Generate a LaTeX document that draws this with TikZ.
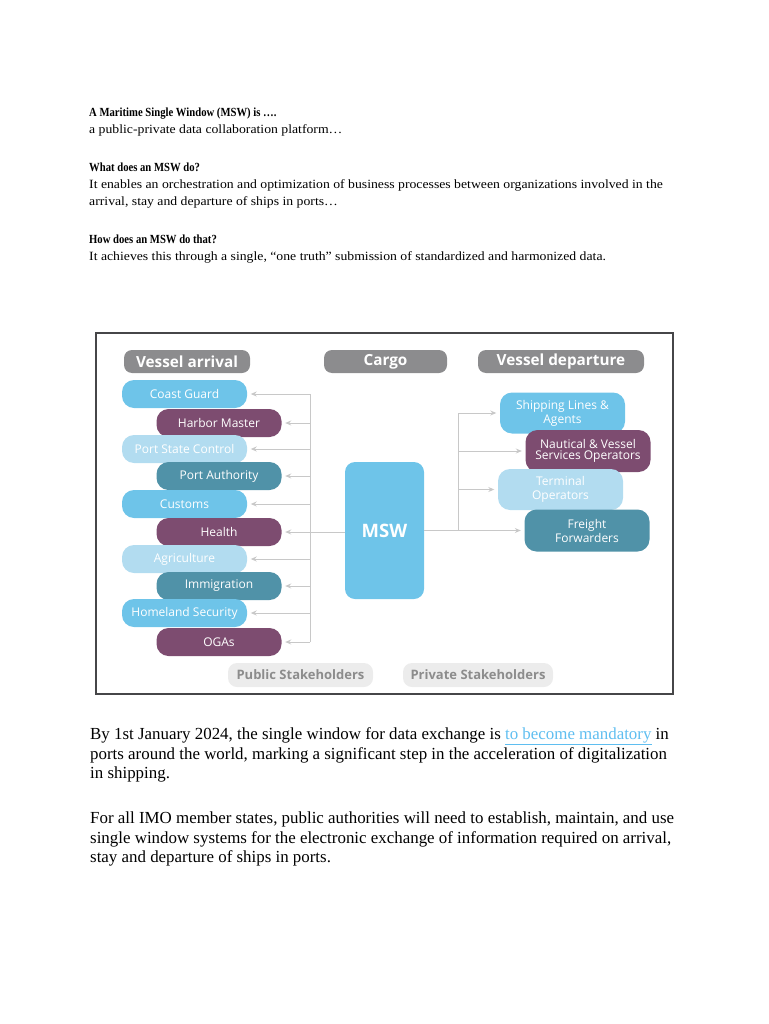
\documentclass[tikz,border=0pt]{standalone}
\usepackage{fontspec}
\setmainfont{Liberation Serif}
\newfontfamily\wideserif{Liberation Serif}[FakeStretch=1.09]
\newfontfamily\narrowserif{Liberation Serif}[FakeStretch=0.86]
\newfontfamily\mswfont{Open Sans}
\definecolor{sky}{RGB}{110,196,233}
\definecolor{plum}{RGB}{125,76,112}
\definecolor{petrol}{RGB}{80,146,168}
\definecolor{pale}{RGB}{178,220,240}
\definecolor{pill}{RGB}{140,140,142}
\definecolor{wire}{RGB}{200,200,200}
\definecolor{frameink}{RGB}{70,70,72}
\definecolor{linkblue}{RGB}{95,190,240}
\definecolor{soft}{RGB}{140,140,140}
\definecolor{softfill}{RGB}{236,236,236}
\usetikzlibrary{arrows.meta,positioning}

\newcommand{\qline}[1]{{\narrowserif\bfseries\fontsize{12.4}{17}\selectfont #1}}

\begin{document}
\begin{tikzpicture}[x=1pt, y=-1pt,
    para/.style={anchor=base west, inner sep=0pt, align=left},
    head/.style={fill=pill, text=white, rounded corners=8pt, minimum height=23pt, inner sep=0pt,
                 font=\mswfont\bfseries\fontsize{15.3}{16}\selectfont},
    agency/.style={rounded corners=12pt, minimum width=125pt, minimum height=28pt, inner sep=0pt,
                   text=white, align=center, font=\mswfont\fontsize{12}{14}\selectfont},
    stake/.style={fill=softfill, text=soft, rounded corners=9pt, minimum height=24pt, inner sep=0pt,
                  font=\mswfont\bfseries\fontsize{13}{14}\selectfont},
    trunk/.style={wire, line width=1pt},
    feed/.style={trunk, -{Stealth[length=6pt, width=5pt]}, shorten >=3.5pt}]

  \useasboundingbox (0,0) rectangle (768,1024);

  % questions on top (base = last line)
  \node[para, font=\wideserif\fontsize{12.6}{17}\selectfont] (intro) at (89,134)
    {\qline{A Maritime Single Window (MSW) is ….}\\a public-private data collaboration platform…};
  \node[para, font=\wideserif\fontsize{12.6}{17}\selectfont] (what) at (89,206)
    {\qline{What does an MSW do?}\\It enables an orchestration and optimization of business processes between organizations involved in the\\arrival, stay and departure of ships in ports…};
  \node[para, font=\wideserif\fontsize{12.6}{17}\selectfont] (how) at (89,260.5)
    {\qline{How does an MSW do that?}\\It achieves this through a single, “one truth” submission of standardized and harmonized data.};

  % the figure
  \node[draw=frameink, line width=1.6pt, minimum width=577pt, minimum height=361pt, inner sep=0pt] (panel) at (384.5,513.5) {};

  \node[head, minimum width=126pt] (arrival)   at (187,361.5)   {Vessel arrival};
  \node[head, minimum width=123pt] (cargo)     at (385.5,361.5) {Cargo};
  \node[head, minimum width=166pt] (departure) at (561,361.5)   {Vessel departure};

  \node[agency, fill=sky]    (coast)     at (184.5,394) {Coast Guard};
  \node[agency, fill=plum]   (harbor)    at (219,423)   {Harbor Master};
  \node[agency, fill=pale]   (psc)       at (184.5,449) {Port State Control};
  \node[agency, fill=petrol] (authority) at (219,476)   {Port Authority};
  \node[agency, fill=sky]    (customs)   at (184.5,504) {Customs};
  \node[agency, fill=plum]   (health)    at (219,532)   {Health};
  \node[agency, fill=pale]   (agri)      at (184.5,559) {Agriculture};
  \node[agency, fill=petrol] (immig)     at (219,586)   {Immigration};
  \node[agency, fill=sky]    (homeland)  at (184.5,613) {Homeland Security};
  \node[agency, fill=plum]   (ogas)      at (219,642)   {OGAs};

  \node[fill=sky, rounded corners=10pt, minimum width=79pt, minimum height=137pt, text=white,
        font=\mswfont\bfseries\fontsize{18.5}{19}\selectfont] (msw) at (384.5,530.5) {MSW};

  \node[agency, fill=sky, minimum height=41pt]    (shipping) at (562.5,413) {Shipping Lines \&\\Agents};
  \node[agency, fill=plum, minimum height=42pt, font=\mswfont\fontsize{12}{11.5}\selectfont]
                                                  (nautical) at (588,451)   {Nautical \& Vessel\\Services Operators};
  \node[agency, fill=pale, minimum height=41pt]   (terminal) at (560.5,489.5) {Terminal\\Operators};
  \node[agency, fill=petrol, minimum height=42pt] (freight)  at (587,530.5) {Freight\\Forwarders};

  \coordinate (ltop) at (310,394);
  \coordinate (lbot) at (310,642);
  \draw[trunk] (ltop) -- (lbot);
  \foreach \n in {coast,harbor,psc,authority,customs,agri,immig,homeland,ogas}
    \draw[feed] (ltop |- \n.east) -- (\n.east);
  \draw[feed] (msw.west |- health.east) -- (health.east);

  \coordinate (rtop) at (458,413);
  \draw[trunk] (msw.east) -- (rtop |- msw.east) -- (rtop);
  \foreach \n in {shipping,nautical,terminal,freight}
    \draw[feed] (rtop |- \n.west) -- (\n.west);

  \node[stake, minimum width=145pt] (public)  at (300.5,675) {Public Stakeholders};
  \node[stake, minimum width=150pt] (private) at (478,675)   {Private Stakeholders};

  % closing text (base = last line)
  \node[para, font=\fontsize{16.9}{19.5}\selectfont] (deadline) at (90,778.5)
    {By 1st January 2024, the single window for data exchange is \textcolor{linkblue}{\underline{to become mandatory}} in\\ports around the world, marking a significant step in the acceleration of digitalization\\in shipping.};
  \node[para, font=\fontsize{16.9}{19.5}\selectfont] (imo) at (90,862.5)
    {For all IMO member states, public authorities will need to establish, maintain, and use\\single window systems for the electronic exchange of information required on arrival,\\stay and departure of ships in ports.};
\end{tikzpicture}
\end{document}
